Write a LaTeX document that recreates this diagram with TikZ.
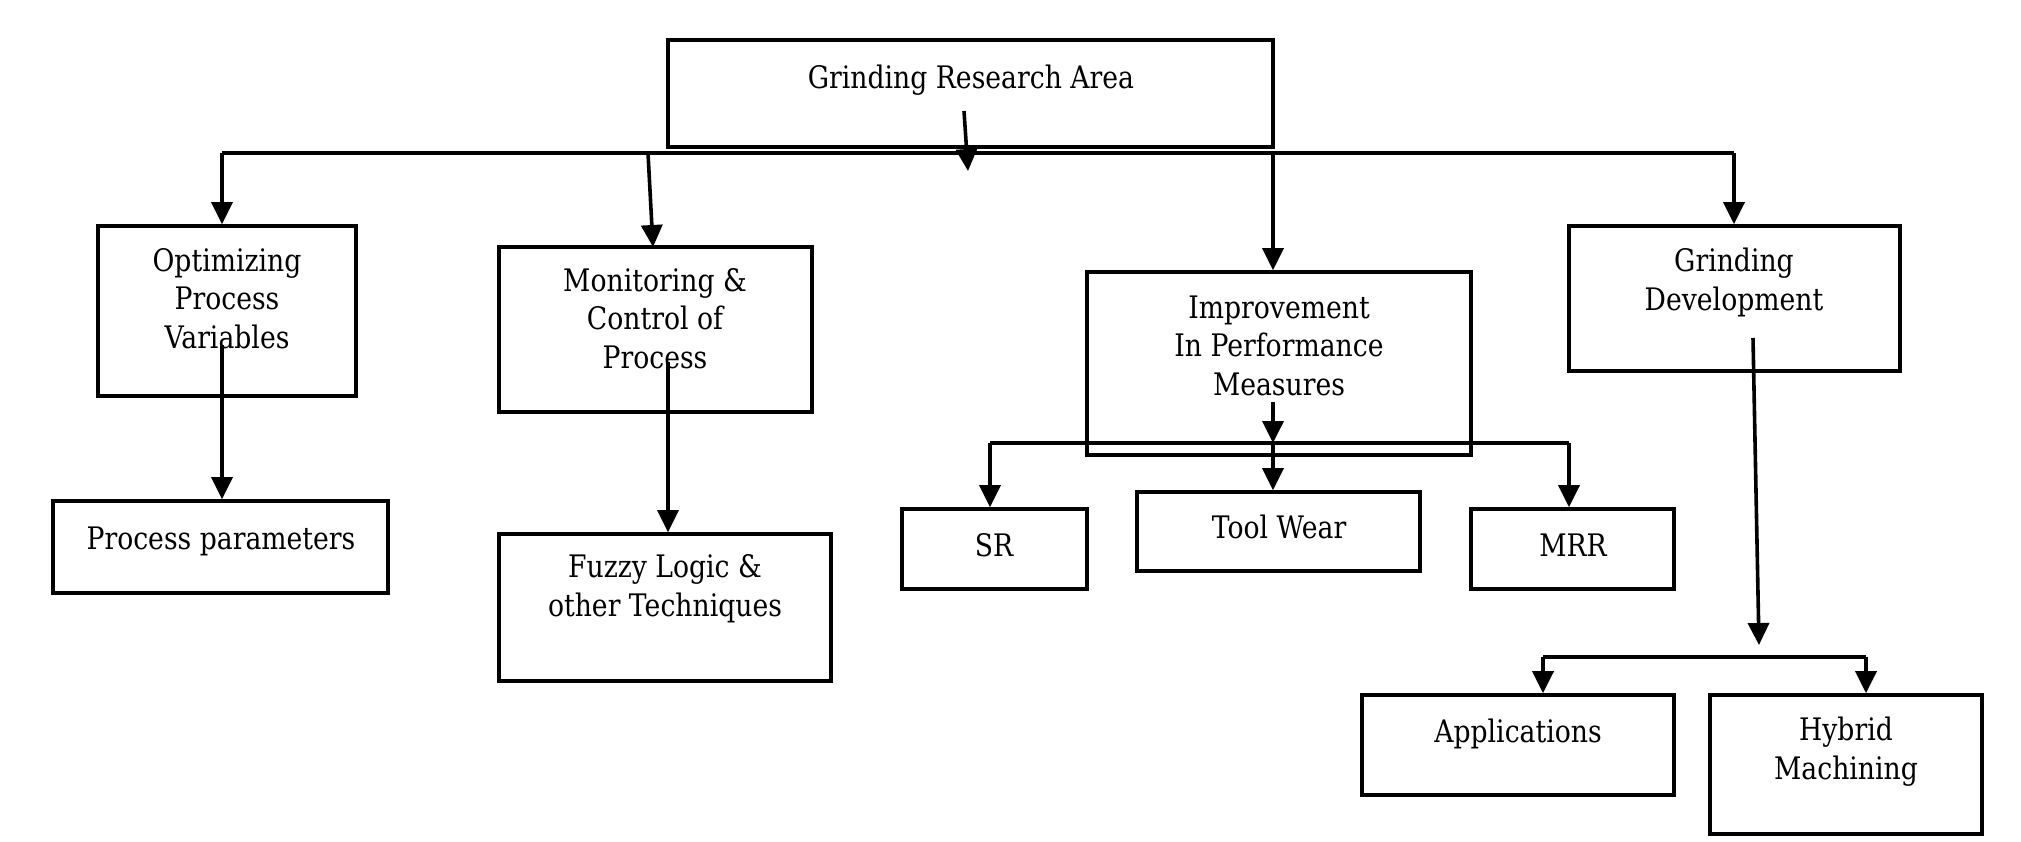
\documentclass[tikz,border=0pt]{standalone}
\usepackage{fontspec}
\setmainfont{DejaVu Serif}[FakeStretch=0.86]
\usetikzlibrary{arrows.meta}
\tikzset{
  box/.style={draw, line width=3.6pt, inner sep=0pt},
  lbl/.style={font=\fontsize{31}{38.5}\selectfont, align=center, anchor=base, inner sep=0pt},
  ln/.style={line width=3.6pt},
  arr/.style={line width=3.6pt, -{Triangle[width=21pt,length=22pt]}}
}
\newcommand\mybox[5]{\node[box, minimum width={(#4-#2)*1pt}, minimum height={(#5-#3)*1pt}] (#1) at ({(#2+#4)/2},{(#3+#5)/2}) {};}
\begin{document}
\begin{tikzpicture}[x=1pt,y=-1pt]
\path[use as bounding box] (0,0) rectangle (2021,841);
% boxes
\mybox{top}{668}{40}{1273}{147}
\mybox{opt}{98}{226}{356}{396}
\mybox{mon}{499}{247}{812}{412}
\mybox{imp}{1087}{272}{1471}{455}
\mybox{gd}{1569}{226}{1900}{371}
\mybox{pp}{53}{501}{388}{593}
\mybox{fz}{499}{534}{831}{681}
\mybox{sr}{902}{509}{1087}{589}
\mybox{tw}{1137}{492}{1420}{571}
\mybox{mrr}{1471}{509}{1674}{589}
\mybox{app}{1362}{695}{1674}{795}
\mybox{hyb}{1710}{695}{1982}{834}
% labels (base anchor = baseline of last line)
\node[lbl] (ttop) at (971,88) {Grinding Research Area};
\node[lbl] (topt) at (227,348) {Optimizing\\Process\\Variables};
\node[lbl] (tmon) at (655,368) {Monitoring \&\\Control of\\Process};
\node[lbl] (timp) at (1279,395) {Improvement\\In Performance\\Measures};
\node[lbl] (tgd) at (1734,310) {Grinding\\Development};
\node[lbl] (tpp) at (221,549) {Process parameters};
\node[lbl] (tfz) at (665,616) {Fuzzy Logic \&\\other Techniques};
\node[lbl] (tsr) at (994,556) {SR};
\node[lbl] (ttw) at (1279,538) {Tool Wear};
\node[lbl] (tmrr) at (1573,556) {MRR};
\node[lbl] (tapp) at (1518,742) {Applications};
\node[lbl] (thyb) at (1846,779) {Hybrid\\Machining};
% coordinates
\coordinate (a0) at (964,111);
\coordinate (a1) at (968,171);
\coordinate (b1) at (222,153);
\coordinate (b2) at (648,153);
\coordinate (b3) at (1273,153);
\coordinate (b4) at (1734,153);
\coordinate (c1) at (222,345);
\coordinate (c2) at (668,362);
\coordinate (d0) at (1273,402);
\coordinate (d1) at (990,443);
\coordinate (d2) at (1273,443);
\coordinate (d3) at (1569,443);
\coordinate (e0) at (1753,338);
\coordinate (e1) at (1759,645);
\coordinate (f1) at (1543,657);
\coordinate (f2) at (1866,657);
% connectors
\draw[arr] (a0) -- (a1);
\draw[ln] (b1) -- (b4);
\draw[arr] (b1) -- (b1 |- opt.north);
\draw[arr] (b2) -- (653,247);
\draw[arr] (b3) -- (b3 |- imp.north);
\draw[arr] (b4) -- (b4 |- gd.north);
\draw[arr] (c1) -- (c1 |- pp.north);
\draw[arr] (c2) -- (c2 |- fz.north);
\draw[arr] (d0) -- (d2);
\draw[ln] (d1) -- (d3);
\draw[arr] (d1) -- (d1 |- sr.north);
\draw[arr] (d2) -- (d2 |- tw.north);
\draw[arr] (d3) -- (d3 |- mrr.north);
\draw[arr] (e0) -- (e1);
\draw[ln] (f1) -- (f2);
\draw[arr] (f1) -- (f1 |- app.north);
\draw[arr] (f2) -- (f2 |- hyb.north);
\end{tikzpicture}
\end{document}
